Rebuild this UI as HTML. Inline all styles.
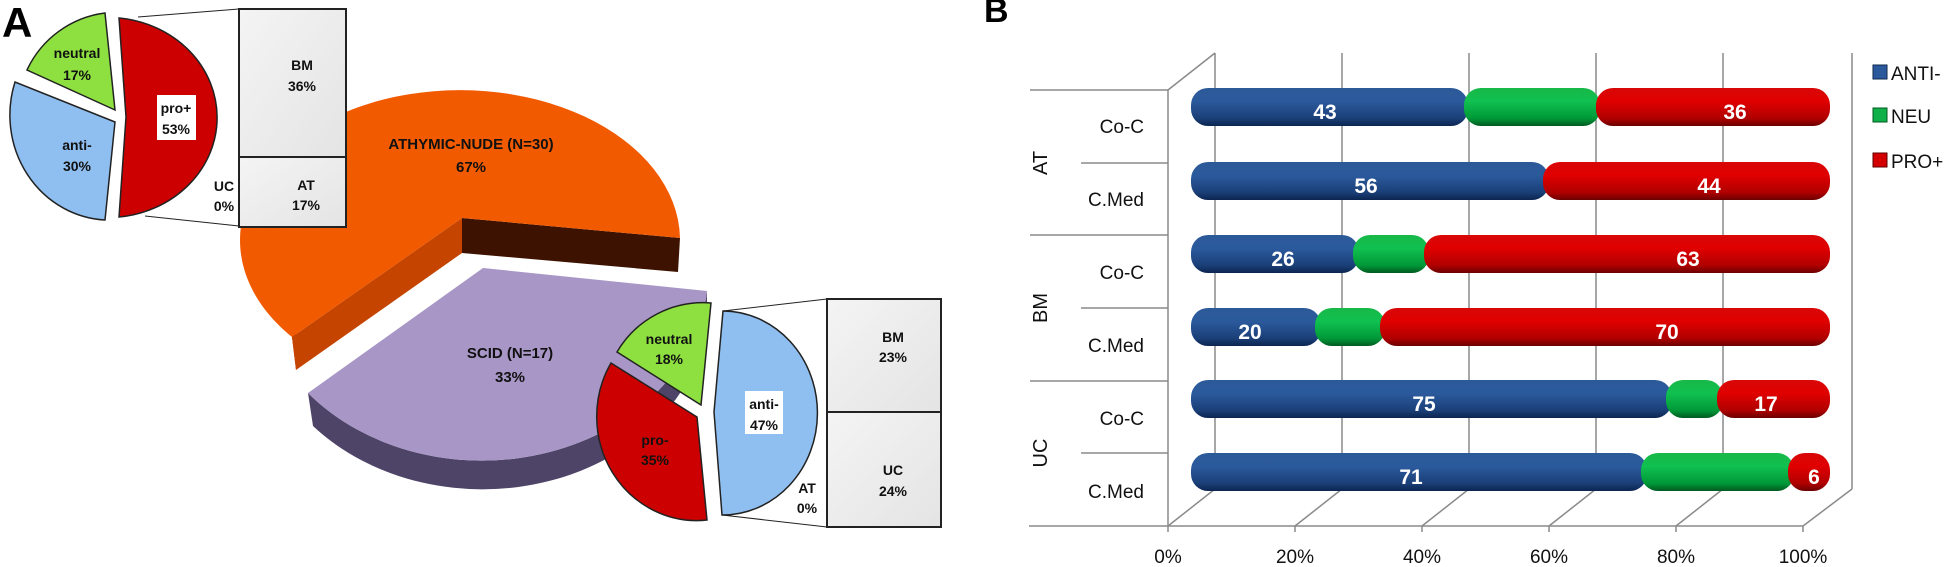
<!DOCTYPE html>
<html><head><meta charset="utf-8"><style>
html,body{margin:0;padding:0;background:#fff;}
svg{display:block;font-family:"Liberation Sans",sans-serif;}
.b{font-weight:bold;}
</style></head><body>
<svg width="1946" height="567" viewBox="0 0 1946 567" xmlns="http://www.w3.org/2000/svg">
<defs>
<linearGradient id="gb" x1="0" y1="0" x2="0" y2="1"><stop offset="0" stop-color="#2c5a98"/><stop offset="0.35" stop-color="#2b5a9c"/><stop offset="0.8" stop-color="#1a3f78"/><stop offset="1" stop-color="#0c2550"/></linearGradient>
<linearGradient id="gg" x1="0" y1="0" x2="0" y2="1"><stop offset="0" stop-color="#18b848"/><stop offset="0.35" stop-color="#10c050"/><stop offset="0.8" stop-color="#009838"/><stop offset="1" stop-color="#005a20"/></linearGradient>
<linearGradient id="gr" x1="0" y1="0" x2="0" y2="1"><stop offset="0" stop-color="#d80808"/><stop offset="0.35" stop-color="#e00000"/><stop offset="0.8" stop-color="#b00000"/><stop offset="1" stop-color="#6a0000"/></linearGradient>
<linearGradient id="gbox" x1="0" y1="0" x2="1" y2="1"><stop offset="0" stop-color="#f4f4f4"/><stop offset="1" stop-color="#e4e4e4"/></linearGradient>
</defs>

<!-- ===== Panel A ===== -->
<text x="2" y="37" class="b" font-size="42">A</text>

<!-- Orange pie -->
<path d="M292,337 A220,150 0 0 0 242,218 L242,251 A220,150 0 0 1 296,370 Z" fill="#b83c00"/>
<path d="M462,218 L292,337 L296,370 L462,253 Z" fill="#c44400"/>
<path d="M462,218 L680,238 L678,272 L462,253 Z" fill="#3e1200"/>
<path d="M462,218 L680,238 A220,150 0 1 0 292,337 Z" fill="#f25a00"/>
<text x="471" y="149" class="b" font-size="15" text-anchor="middle" fill="#111">ATHYMIC-NUDE (N=30)</text>
<text x="471" y="172" class="b" font-size="15" text-anchor="middle" fill="#111">67%</text>

<!-- Purple pie -->
<path d="M707,291 A226,187 0 0 1 308,393 L313,426 A226,187 0 0 0 707,324 Z" fill="#4e4468"/>
<path d="M483,268 L707,291 A226,187 0 0 1 308,393 Z" fill="#a896c6"/>
<text x="510" y="358" class="b" font-size="15" text-anchor="middle" fill="#111">SCID (N=17)</text>
<text x="510" y="382" class="b" font-size="15" text-anchor="middle" fill="#111">33%</text>

<!-- Top-left small pie -->
<path d="M119,18 A109,100 0 0 1 119,217 L126,117 Z" fill="#cc0000" stroke="#222" stroke-width="1.5"/>
<path d="M115,110 L27,70 A100,100 0 0 1 105,13 Z" fill="#8ee040" stroke="#222" stroke-width="1.5"/>
<path d="M115,122 L15,82 A100,105 0 0 0 105,220 Z" fill="#8fbff0" stroke="#222" stroke-width="1.5"/>
<text x="77" y="58" class="b" font-size="14" text-anchor="middle" fill="#111">neutral</text>
<text x="77" y="80" class="b" font-size="14" text-anchor="middle" fill="#111">17%</text>
<text x="77" y="150" class="b" font-size="14" text-anchor="middle" fill="#111">anti-</text>
<text x="77" y="171" class="b" font-size="14" text-anchor="middle" fill="#111">30%</text>
<rect x="157" y="95" width="39" height="45" fill="#fff"/>
<text x="176" y="113" class="b" font-size="14" text-anchor="middle" fill="#111">pro+</text>
<text x="176" y="134" class="b" font-size="14" text-anchor="middle" fill="#111">53%</text>
<text x="224" y="191" class="b" font-size="14" text-anchor="middle" fill="#111">UC</text>
<text x="224" y="211" class="b" font-size="14" text-anchor="middle" fill="#111">0%</text>
<line x1="138" y1="17" x2="239" y2="9" stroke="#222" stroke-width="1"/>
<line x1="145" y1="216" x2="239" y2="226" stroke="#222" stroke-width="1"/>
<rect x="239" y="9" width="107" height="148" fill="url(#gbox)" stroke="#222" stroke-width="2"/>
<rect x="239" y="157" width="107" height="70" fill="url(#gbox)" stroke="#222" stroke-width="2"/>
<text x="302" y="70" class="b" font-size="14" text-anchor="middle" fill="#111">BM</text>
<text x="302" y="91" class="b" font-size="14" text-anchor="middle" fill="#111">36%</text>
<text x="306" y="190" class="b" font-size="14" text-anchor="middle" fill="#111">AT</text>
<text x="306" y="210" class="b" font-size="14" text-anchor="middle" fill="#111">17%</text>

<!-- Bottom-right small pie -->
<path d="M701,405 L617,352 A100,100 0 0 1 711,303 Z" fill="#8ee040" stroke="#222" stroke-width="1.5"/>
<path d="M697,417 L611,363 A100,104 0 0 0 707,520 Z" fill="#cc0000" stroke="#222" stroke-width="1.5"/>
<path d="M723,311 A94,101 0 0 1 722,515 L714,412 Z" fill="#8fbff0" stroke="#222" stroke-width="1.5"/>
<text x="669" y="344" class="b" font-size="14" text-anchor="middle" fill="#111">neutral</text>
<text x="669" y="364" class="b" font-size="14" text-anchor="middle" fill="#111">18%</text>
<text x="655" y="445" class="b" font-size="14" text-anchor="middle" fill="#111">pro-</text>
<text x="655" y="465" class="b" font-size="14" text-anchor="middle" fill="#111">35%</text>
<rect x="745" y="391" width="38" height="43" fill="#fff"/>
<text x="764" y="409" class="b" font-size="14" text-anchor="middle" fill="#111">anti-</text>
<text x="764" y="430" class="b" font-size="14" text-anchor="middle" fill="#111">47%</text>
<text x="807" y="493" class="b" font-size="14" text-anchor="middle" fill="#111">AT</text>
<text x="807" y="513" class="b" font-size="14" text-anchor="middle" fill="#111">0%</text>
<line x1="723" y1="311" x2="827" y2="299" stroke="#222" stroke-width="1"/>
<line x1="722" y1="515" x2="827" y2="527" stroke="#222" stroke-width="1"/>
<rect x="827" y="299" width="114" height="113" fill="url(#gbox)" stroke="#222" stroke-width="2"/>
<rect x="827" y="412" width="114" height="115" fill="url(#gbox)" stroke="#222" stroke-width="2"/>
<text x="893" y="342" class="b" font-size="14" text-anchor="middle" fill="#111">BM</text>
<text x="893" y="362" class="b" font-size="14" text-anchor="middle" fill="#111">23%</text>
<text x="893" y="475" class="b" font-size="14" text-anchor="middle" fill="#111">UC</text>
<text x="893" y="496" class="b" font-size="14" text-anchor="middle" fill="#111">24%</text>

<!-- ===== Panel B ===== -->
<text x="984" y="22" class="b" font-size="34">B</text>
<g stroke="#8a8a8a" stroke-width="1.5" fill="none">
  <line x1="1215" y1="53" x2="1215" y2="489"/>
  <line x1="1342" y1="53" x2="1342" y2="489"/>
  <line x1="1469" y1="53" x2="1469" y2="489"/>
  <line x1="1596" y1="53" x2="1596" y2="489"/>
  <line x1="1723" y1="53" x2="1723" y2="489"/>
  <line x1="1852" y1="53" x2="1852" y2="489"/>
  <line x1="1168" y1="526" x2="1215" y2="489"/>
  <line x1="1295" y1="526" x2="1342" y2="489"/>
  <line x1="1422" y1="526" x2="1469" y2="489"/>
  <line x1="1549" y1="526" x2="1596" y2="489"/>
  <line x1="1676" y1="526" x2="1723" y2="489"/>
  <line x1="1803" y1="526" x2="1852" y2="489"/>
  <line x1="1168" y1="90" x2="1168" y2="526"/>
  <line x1="1168" y1="90" x2="1215" y2="53"/>
  <line x1="1029" y1="526" x2="1803" y2="526"/>
  <line x1="1030" y1="90" x2="1168" y2="90"/>
  <line x1="1030" y1="235" x2="1168" y2="235"/>
  <line x1="1030" y1="381" x2="1168" y2="381"/>
  <line x1="1081" y1="163" x2="1168" y2="163"/>
  <line x1="1081" y1="308" x2="1168" y2="308"/>
  <line x1="1081" y1="453" x2="1168" y2="453"/>
  <line x1="1168" y1="526" x2="1168" y2="532"/>
  <line x1="1295" y1="526" x2="1295" y2="532"/>
  <line x1="1422" y1="526" x2="1422" y2="532"/>
  <line x1="1549" y1="526" x2="1549" y2="532"/>
  <line x1="1676" y1="526" x2="1676" y2="532"/>
  <line x1="1803" y1="526" x2="1803" y2="532"/>
</g>
<g font-size="19" fill="#111" text-anchor="middle">
  <text x="1168" y="563">0%</text>
  <text x="1295" y="563">20%</text>
  <text x="1422" y="563">40%</text>
  <text x="1549" y="563">60%</text>
  <text x="1676" y="563">80%</text>
  <text x="1803" y="563">100%</text>
</g>
<g font-size="19" fill="#111" text-anchor="end">
  <text x="1144" y="133">Co-C</text>
  <text x="1144" y="206">C.Med</text>
  <text x="1144" y="279">Co-C</text>
  <text x="1144" y="352">C.Med</text>
  <text x="1144" y="425">Co-C</text>
  <text x="1144" y="498">C.Med</text>
</g>
<g font-size="20" fill="#111" text-anchor="middle">
  <text transform="translate(1047,163) rotate(-90)">AT</text>
  <text transform="translate(1047,308) rotate(-90)">BM</text>
  <text transform="translate(1047,453) rotate(-90)">UC</text>
</g>

<g>
  <rect x="1191" y="88" width="277" height="38" rx="17" fill="url(#gb)"/>
  <rect x="1464" y="88" width="136" height="38" rx="17" fill="url(#gg)"/>
  <rect x="1596" y="88" width="234" height="38" rx="17" fill="url(#gr)"/>

  <rect x="1191" y="162" width="358" height="38" rx="17" fill="url(#gb)"/>
  <rect x="1543" y="162" width="287" height="38" rx="17" fill="url(#gr)"/>

  <rect x="1191" y="235" width="168" height="38" rx="17" fill="url(#gb)"/>
  <rect x="1353" y="235" width="76" height="38" rx="17" fill="url(#gg)"/>
  <rect x="1424" y="235" width="406" height="38" rx="17" fill="url(#gr)"/>

  <rect x="1191" y="308" width="130" height="38" rx="17" fill="url(#gb)"/>
  <rect x="1315" y="308" width="70" height="38" rx="17" fill="url(#gg)"/>
  <rect x="1380" y="308" width="450" height="38" rx="17" fill="url(#gr)"/>

  <rect x="1191" y="380" width="481" height="38" rx="17" fill="url(#gb)"/>
  <rect x="1666" y="380" width="57" height="38" rx="17" fill="url(#gg)"/>
  <rect x="1717" y="380" width="113" height="38" rx="17" fill="url(#gr)"/>

  <rect x="1191" y="453" width="456" height="38" rx="17" fill="url(#gb)"/>
  <rect x="1641" y="453" width="153" height="38" rx="17" fill="url(#gg)"/>
  <rect x="1788" y="453" width="42" height="38" rx="17" fill="url(#gr)"/>
</g>
<g font-size="21" class="b" fill="#fff" text-anchor="middle">
  <text x="1325" y="119">43</text>
  <text x="1735" y="119">36</text>
  <text x="1366" y="193">56</text>
  <text x="1709" y="193">44</text>
  <text x="1283" y="266">26</text>
  <text x="1688" y="266">63</text>
  <text x="1250" y="339">20</text>
  <text x="1667" y="339">70</text>
  <text x="1424" y="411">75</text>
  <text x="1766" y="411">17</text>
  <text x="1411" y="484">71</text>
  <text x="1814" y="484">6</text>
</g>

<rect x="1873" y="65" width="14" height="14" fill="#2b5a9c" stroke="#10284e" stroke-width="1"/>
<rect x="1873" y="108" width="14" height="14" fill="#10b048" stroke="#005a20" stroke-width="1"/>
<rect x="1873" y="153" width="14" height="14" fill="#d40000" stroke="#600000" stroke-width="1"/>
<g font-size="19" fill="#111">
  <text x="1891" y="80">ANTI-</text>
  <text x="1891" y="123">NEU</text>
  <text x="1891" y="168">PRO+</text>
</g>
</svg>
</body></html>
